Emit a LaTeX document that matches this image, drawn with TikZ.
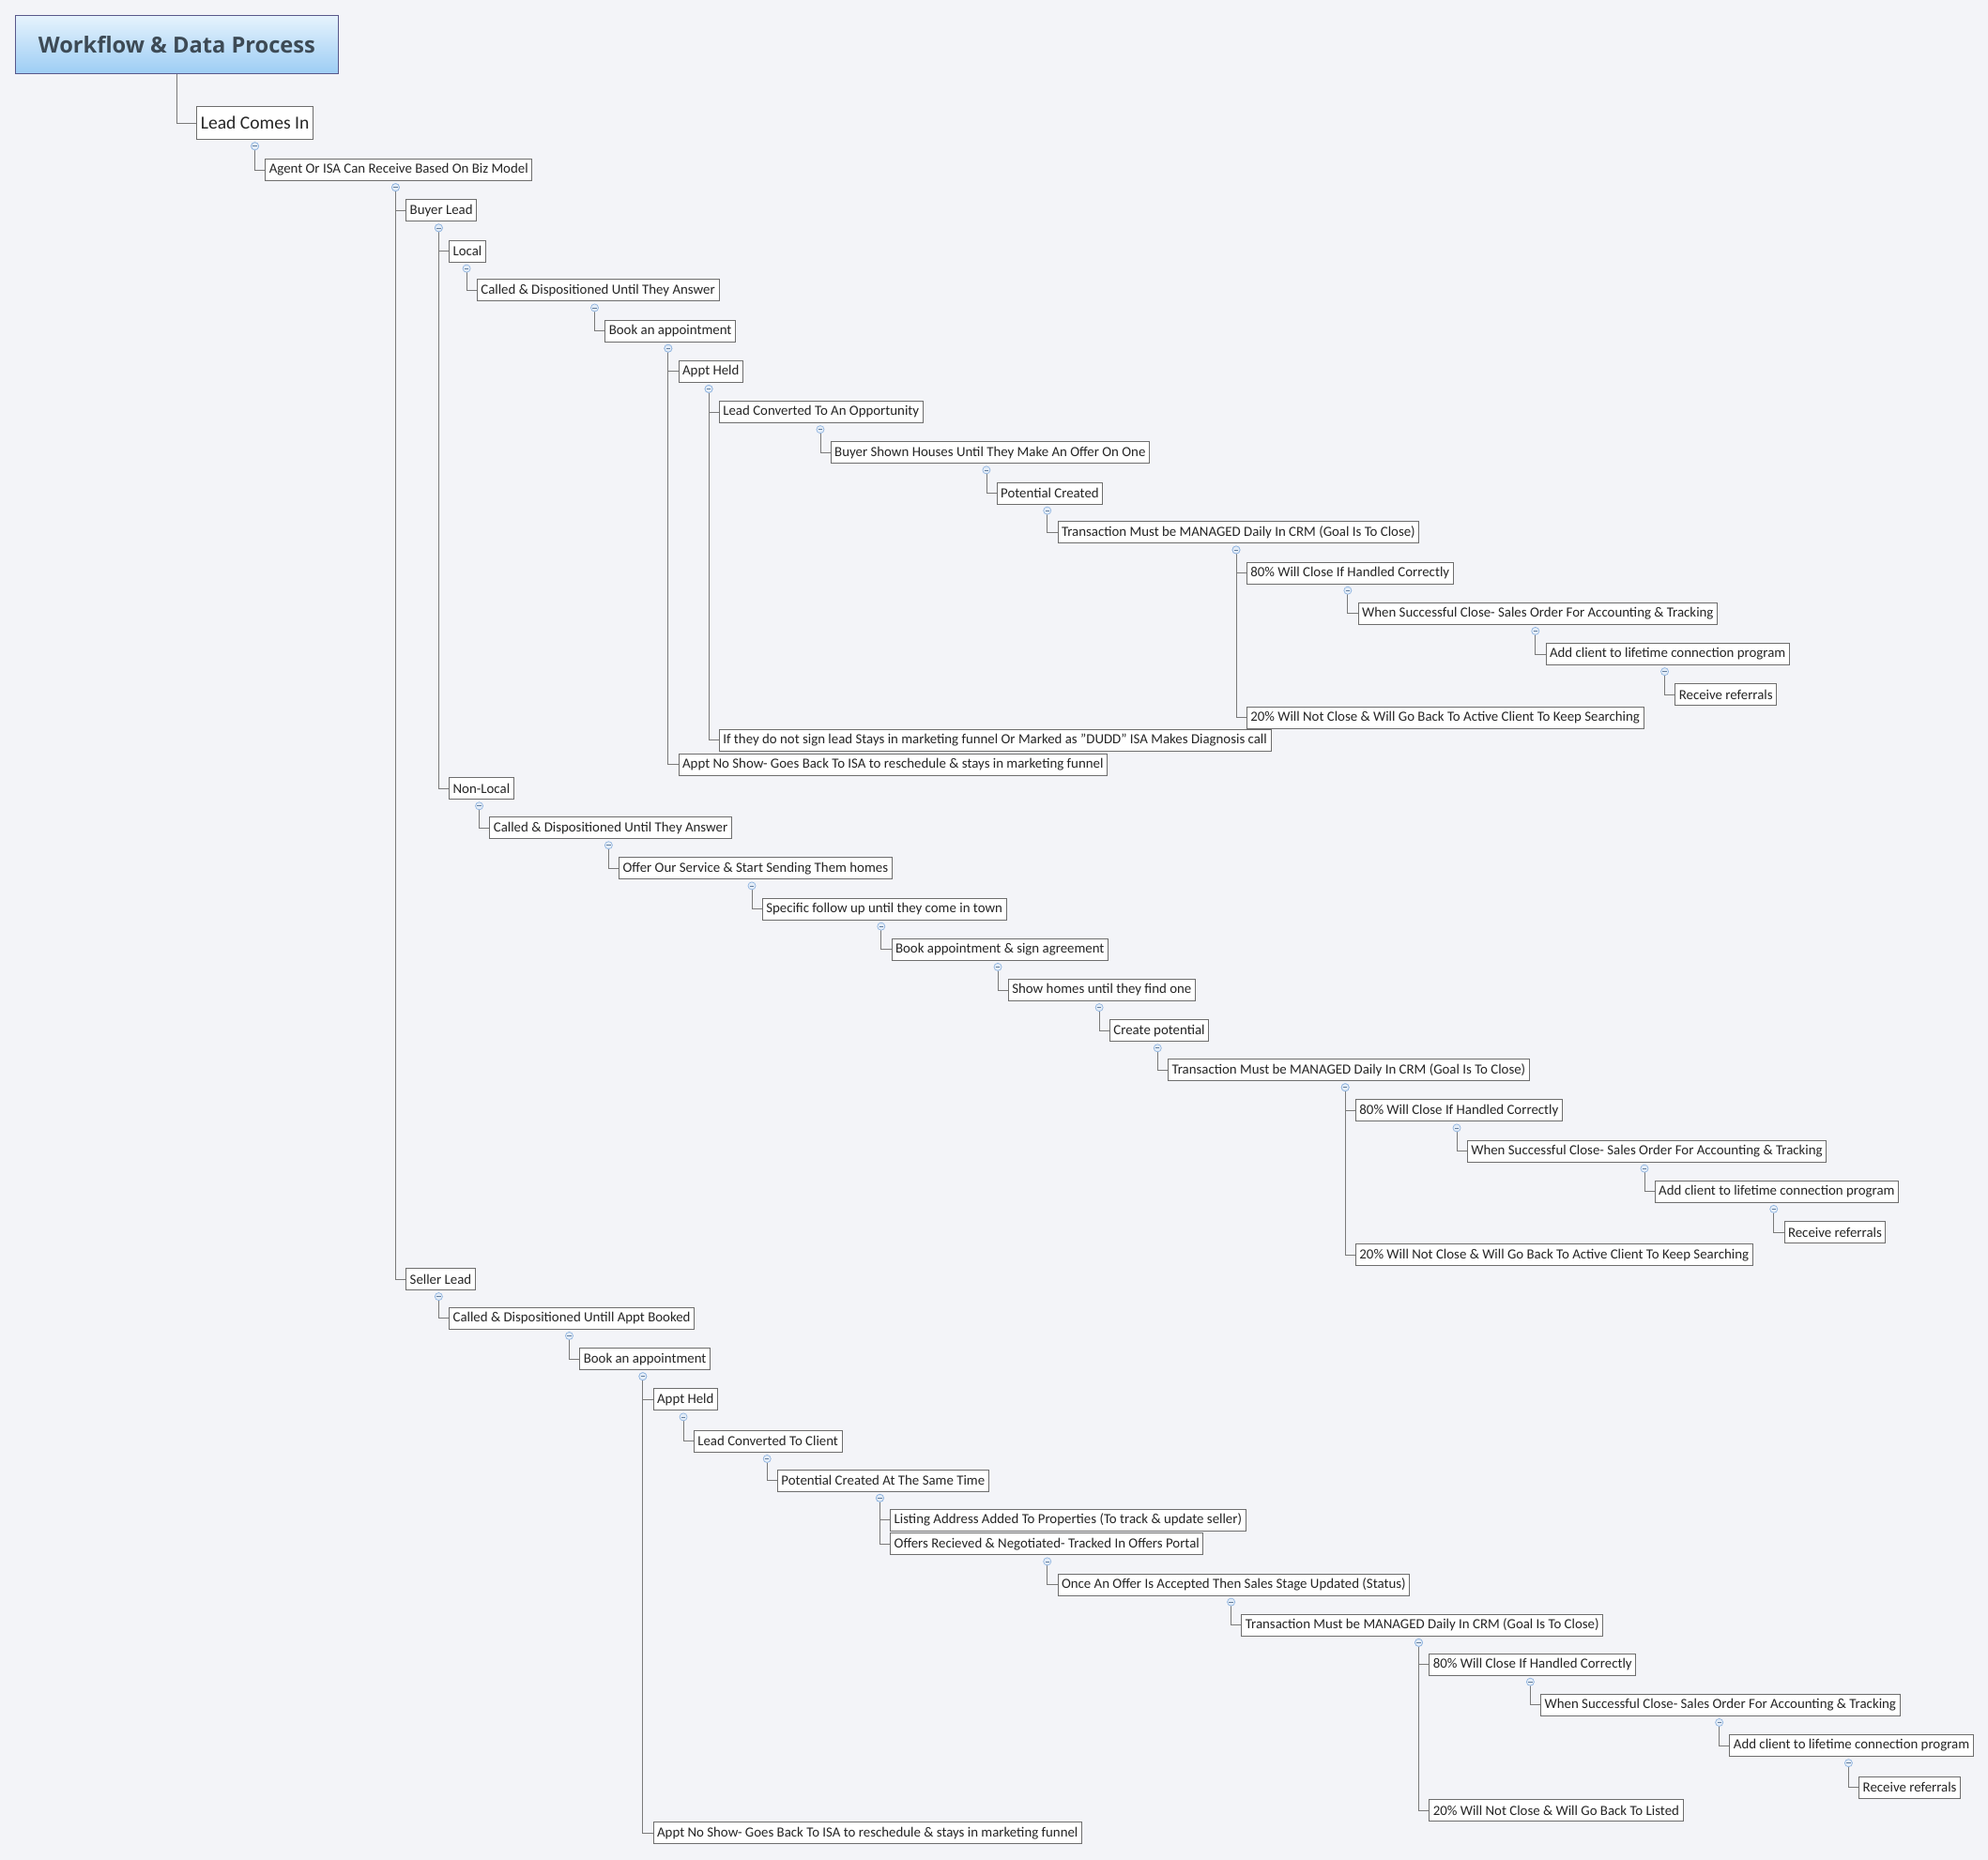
\documentclass[tikz,border=0pt]{standalone}
\usepackage{fontspec}
\setmainfont{Carlito}
\newfontfamily\titlefont{Open Sans}
\definecolor{bg}{HTML}{F3F4F8}
\definecolor{ln}{HTML}{7A7A7A}
\definecolor{bx}{HTML}{6E6E6E}
\definecolor{cb}{HTML}{8FB4E0}
\definecolor{ttop}{HTML}{E6F3FD}
\definecolor{tbot}{HTML}{9DCDF4}
\definecolor{ttx}{HTML}{3D4A55}
\pgfdeclarelayer{back}
\pgfsetlayers{back,main}
\begin{document}
\begin{tikzpicture}[x=1pt,y=1pt,
  box/.style={draw=bx,fill=white,line width=0.6pt,inner xsep=3pt,inner ysep=0pt,minimum height=17pt,font=\fontsize{11}{12}\selectfont,text=black!85},
  conn/.style={draw=ln,line width=0.6pt},
  col/.style={circle,draw=cb,fill=cb!25,line width=0.5pt,minimum size=6pt,inner sep=0pt}]
\begin{pgfonlayer}{back}
\fill[bg] (0,0) rectangle (1568,-1467);
\end{pgfonlayer}
\useasboundingbox (0,0) rectangle (1568,-1467);
% #1 name, #2 parent, #3 left x, #4 centre y, #5 text
\newcommand\nd[5]{%
  \node[box,anchor=west] (#1) at (#3,-#4) {#5};
  \path ([xshift=-8pt]#1.west) coordinate (cx);
  \path (cx |- #2.south) ++(0,-5) coordinate (cs);
  \begin{pgfonlayer}{back}\draw[conn] (cs) |- (#1.west);\end{pgfonlayer}
  \node[col] at (cs) {};
  \draw[cb!70!black,line width=0.5pt] ([xshift=-1.6pt]cs) -- ([xshift=1.6pt]cs);
}
\node[draw=bx!80!blue,top color=ttop,bottom color=tbot,minimum width=255pt,minimum height=46pt,font=\titlefont\fontsize{17.5}{20}\selectfont\bfseries,text=ttx] (T) at (139.5,-35) {Workflow \& Data Process};
\node[box,anchor=west,minimum height=26pt,font=\fontsize{14.5}{16}\selectfont] (L) at (155,-97) {Lead Comes In};
\draw[conn] (T.south) |- (L.west);
\nd{A}{L}{209}{134}{Agent Or ISA Can Receive Based On Biz Model}
\nd{BL}{A}{320}{166}{Buyer Lead}
\nd{LOC}{BL}{354}{198}{Local}
\nd{C1}{LOC}{376}{229}{Called \& Dispositioned Until They Answer}
\nd{B1}{C1}{477}{261}{Book an appointment}
\nd{AH1}{B1}{535}{293}{Appt Held}
\nd{LC1}{AH1}{567}{325}{Lead Converted To An Opportunity}
\nd{BS}{LC1}{655}{357}{Buyer Shown Houses Until They Make An Offer On One}
\nd{PC1}{BS}{786}{389}{Potential Created}
\nd{T1}{PC1}{834}{420}{Transaction Must be MANAGED Daily In CRM (Goal Is To Close)}
\nd{E1}{T1}{983}{452}{80\% Will Close If Handled Correctly}
\nd{W1}{E1}{1071}{484}{When Successful Close- Sales Order For Accounting \& Tracking}
\nd{AC1}{W1}{1219}{516}{Add client to lifetime connection program}
\nd{R1}{AC1}{1321}{548}{Receive referrals}
\nd{TW1}{T1}{983}{566}{20\% Will Not Close \& Will Go Back To Active Client To Keep Searching}
\nd{IF}{AH1}{567}{584}{If they do not sign lead Stays in marketing funnel Or Marked as "DUDD" ISA Makes Diagnosis call}
\nd{NS1}{B1}{535}{603}{Appt No Show- Goes Back To ISA to reschedule \& stays in marketing funnel}
\nd{NL}{BL}{354}{622}{Non-Local}
\nd{C2}{NL}{386}{653}{Called \& Dispositioned Until They Answer}
\nd{O2}{C2}{488}{685}{Offer Our Service \& Start Sending Them homes}
\nd{S2}{O2}{601}{717}{Specific follow up until they come in town}
\nd{BA2}{S2}{703}{749}{Book appointment \& sign agreement}
\nd{SH2}{BA2}{795}{781}{Show homes until they find one}
\nd{CP2}{SH2}{875}{813}{Create potential}
\nd{T2}{CP2}{921}{844}{Transaction Must be MANAGED Daily In CRM (Goal Is To Close)}
\nd{E2}{T2}{1069}{876}{80\% Will Close If Handled Correctly}
\nd{W2}{E2}{1157}{908}{When Successful Close- Sales Order For Accounting \& Tracking}
\nd{AC2}{W2}{1305}{940}{Add client to lifetime connection program}
\nd{R2}{AC2}{1407}{972}{Receive referrals}
\nd{TW2}{T2}{1069}{990}{20\% Will Not Close \& Will Go Back To Active Client To Keep Searching}
\nd{SL}{A}{320}{1009}{Seller Lead}
\nd{C3}{SL}{354}{1040}{Called \& Dispositioned Untill Appt Booked}
\nd{B3}{C3}{457}{1072}{Book an appointment}
\nd{AH3}{B3}{515}{1104}{Appt Held}
\nd{LC3}{AH3}{547}{1137}{Lead Converted To Client}
\nd{PC3}{LC3}{613}{1168}{Potential Created At The Same Time}
\nd{LA3}{PC3}{702}{1199}{Listing Address Added To Properties (To track \& update seller)}
\nd{OF3}{PC3}{702}{1218}{Offers Recieved \& Negotiated- Tracked In Offers Portal}
\nd{OA3}{OF3}{834}{1250}{Once An Offer Is Accepted Then Sales Stage Updated (Status)}
\nd{T3}{OA3}{979}{1282}{Transaction Must be MANAGED Daily In CRM (Goal Is To Close)}
\nd{E3}{T3}{1127}{1313}{80\% Will Close If Handled Correctly}
\nd{W3}{E3}{1215}{1345}{When Successful Close- Sales Order For Accounting \& Tracking}
\nd{AC3}{W3}{1364}{1377}{Add client to lifetime connection program}
\nd{R3}{AC3}{1466}{1410}{Receive referrals}
\nd{TW3}{T3}{1127}{1428}{20\% Will Not Close \& Will Go Back To Listed}
\nd{NS3}{B3}{515}{1446}{Appt No Show- Goes Back To ISA to reschedule \& stays in marketing funnel}
\node[col] (cL) at ([yshift=-5pt]L.south) {};
\draw[cb!70!black,line width=0.5pt] ([xshift=-1.6pt]cL.center) -- ([xshift=1.6pt]cL.center);
\end{tikzpicture}
\end{document}
